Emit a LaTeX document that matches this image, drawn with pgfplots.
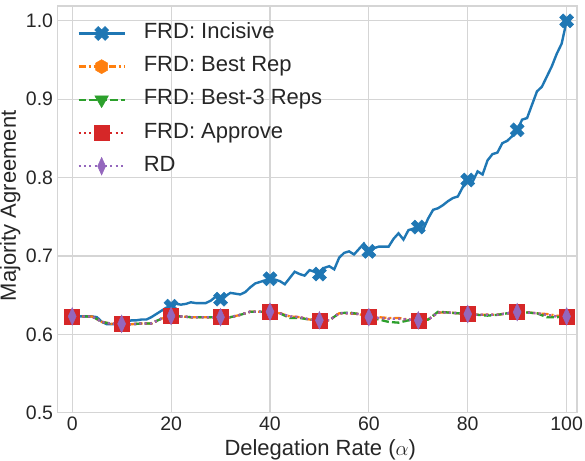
\documentclass[border=0pt]{standalone}
\usepackage{pgfplots}
\pgfplotsset{compat=1.18}
\usepackage{fontspec}
\setmainfont{Liberation Sans}

\definecolor{c0}{HTML}{1F77B4}
\definecolor{c1}{HTML}{FF7F0E}
\definecolor{c2}{HTML}{2CA02C}
\definecolor{c3}{HTML}{D62728}
\definecolor{c4}{HTML}{9467BD}
\definecolor{gridgray}{HTML}{D5D5D5}
\definecolor{txt}{HTML}{262626}

% filled X (matplotlib 'X')
\pgfdeclareplotmark{X}{%
  \pgftransformrotate{45}%
  \pgfpathmoveto{\pgfpoint{0.34\pgfplotmarksize}{0.34\pgfplotmarksize}}%
  \pgfpathlineto{\pgfpoint{0.34\pgfplotmarksize}{\pgfplotmarksize}}%
  \pgfpathlineto{\pgfpoint{-0.34\pgfplotmarksize}{\pgfplotmarksize}}%
  \pgfpathlineto{\pgfpoint{-0.34\pgfplotmarksize}{0.34\pgfplotmarksize}}%
  \pgfpathlineto{\pgfpoint{-\pgfplotmarksize}{0.34\pgfplotmarksize}}%
  \pgfpathlineto{\pgfpoint{-\pgfplotmarksize}{-0.34\pgfplotmarksize}}%
  \pgfpathlineto{\pgfpoint{-0.34\pgfplotmarksize}{-0.34\pgfplotmarksize}}%
  \pgfpathlineto{\pgfpoint{-0.34\pgfplotmarksize}{-\pgfplotmarksize}}%
  \pgfpathlineto{\pgfpoint{0.34\pgfplotmarksize}{-\pgfplotmarksize}}%
  \pgfpathlineto{\pgfpoint{0.34\pgfplotmarksize}{-0.34\pgfplotmarksize}}%
  \pgfpathlineto{\pgfpoint{\pgfplotmarksize}{-0.34\pgfplotmarksize}}%
  \pgfpathlineto{\pgfpoint{\pgfplotmarksize}{0.34\pgfplotmarksize}}%
  \pgfpathclose
  \pgfusepathqfillstroke}

% filled hexagon (matplotlib 'h')
\pgfdeclareplotmark{hexagon*}{%
  \pgfpathmoveto{\pgfpointpolar{90}{\pgfplotmarksize}}%
  \pgfpathlineto{\pgfpointpolar{150}{\pgfplotmarksize}}%
  \pgfpathlineto{\pgfpointpolar{210}{\pgfplotmarksize}}%
  \pgfpathlineto{\pgfpointpolar{270}{\pgfplotmarksize}}%
  \pgfpathlineto{\pgfpointpolar{330}{\pgfplotmarksize}}%
  \pgfpathlineto{\pgfpointpolar{30}{\pgfplotmarksize}}%
  \pgfpathclose
  \pgfusepathqfillstroke}

\begin{document}
\begin{tikzpicture}
\begin{axis}[
    scale only axis,
    width=520bp, height=407bp,
    xmin=-3.03, xmax=102.1,
    ymin=0.5, ymax=1.019,
    xtick={0,20,40,60,80,100},
    ytick={0.5,0.6,0.7,0.8,0.9,1.0},
    y tick label style={/pgf/number format/fixed,
        /pgf/number format/fixed zerofill,
        /pgf/number format/precision=1},
    /pgf/number format/assume math mode=true,
    major tick length=0pt,
    grid=major,
    grid style={gridgray, line width=1.1bp},
    axis line style={gridgray, line width=1.3bp},
    tick label style={font=\fontsize{19.5bp}{22bp}\selectfont, text=txt, inner sep=0pt},
    xticklabel style={anchor=north, yshift=-4bp},
    yticklabel style={anchor=east, xshift=-4bp},
    label style={font=\fontsize{22bp}{26bp}\selectfont, text=txt, inner sep=0pt},
    xlabel={Delegation Rate ($\alpha$)},
    ylabel={Majority Agreement},
    xlabel style={at={(axis description cs:0.506,-0.105)}, anchor=base},
    ylabel style={at={(axis description cs:-0.0904,0.509)}, anchor=center},
    legend cell align=left,
    legend style={draw=none, fill=none, at={(axis description cs:0.0385,0.96)},
        anchor=north west, inner sep=0pt, row sep=11.2bp,
        font=\fontsize{22bp}{26bp}\selectfont, text=txt,
        nodes={inner sep=0pt, text height=16bp, text depth=6bp}},
    legend image code/.code={%
        \draw[#1, mark repeat=2, mark phase=2] plot coordinates {(0bp,0bp) (23bp,0bp) (46bp,0bp)};
        \path (0bp,0bp) (64bp,0bp);},
]

% FRD: Incisive
\addplot[c0, line width=2.4bp, mark=X, mark size=7.4bp, mark repeat=10,
    mark options={solid, fill=c0, draw=c0, line width=0.5bp}] coordinates {
(0,0.623) (1,0.623) (2,0.623) (3,0.623) (4,0.623) (5,0.622) (6,0.616) (7,0.613) (8,0.613) (9,0.613)
(10,0.614) (11,0.616) (12,0.618) (13,0.618) (14,0.619) (15,0.619) (16,0.622) (17,0.626) (18,0.630) (19,0.634)
(20,0.636) (21,0.639) (22,0.638) (23,0.639) (24,0.641) (25,0.640) (26,0.640) (27,0.640) (28,0.643) (29,0.648)
(30,0.645) (31,0.649) (32,0.653) (33,0.652) (34,0.651) (35,0.654) (36,0.660) (37,0.665) (38,0.667) (39,0.669)
(40,0.671) (41,0.670) (42,0.668) (43,0.664) (44,0.672) (45,0.680) (46,0.677) (47,0.675) (48,0.682) (49,0.680)
(50,0.677) (51,0.685) (52,0.687) (53,0.683) (54,0.698) (55,0.704) (56,0.706) (57,0.702) (58,0.709) (59,0.716)
(60,0.706) (61,0.710) (62,0.712) (63,0.712) (64,0.712) (65,0.722) (66,0.729) (67,0.721) (68,0.733) (69,0.735)
(70,0.737) (71,0.734) (72,0.748) (73,0.759) (74,0.761) (75,0.765) (76,0.770) (77,0.774) (78,0.776) (79,0.788)
(80,0.797) (81,0.795) (82,0.808) (83,0.804) (84,0.822) (85,0.830) (86,0.832) (87,0.844) (88,0.847) (89,0.853)
(90,0.861) (91,0.874) (92,0.876) (93,0.893) (94,0.910) (95,0.916) (96,0.929) (97,0.942) (98,0.958) (99,0.971)
(100,1.000)};
\addlegendentry{FRD: Incisive}

% FRD: Best Rep
\addplot[c1, line width=2.3bp, dash pattern=on 7bp off 3bp on 2bp off 3bp,
    mark=hexagon*, mark size=7bp, mark repeat=5,
    mark options={solid, fill=c1, draw=c1, line width=0.5bp}] coordinates {
(0,0.623) (2,0.623) (4,0.623) (6,0.616) (8,0.6135) (10,0.6135) (12,0.613) (14,0.614) (16,0.614) (18,0.620)
(20,0.6235) (22,0.623) (24,0.622) (26,0.622) (28,0.622) (30,0.622) (32,0.622) (34,0.625) (36,0.629) (38,0.629)
(40,0.629) (42,0.627) (44,0.623) (46,0.622) (48,0.619) (50,0.618) (52,0.618) (54,0.627) (56,0.627) (58,0.626)
(60,0.622) (62,0.622) (64,0.621) (66,0.621) (68,0.619) (70,0.618) (72,0.619) (74,0.628) (76,0.628) (78,0.627)
(80,0.626) (82,0.625) (84,0.625) (86,0.625) (88,0.627) (90,0.6285) (92,0.628) (94,0.627) (96,0.626) (98,0.624)
(100,0.623)};
\addlegendentry{FRD: Best Rep}

% FRD: Best-3 Reps
\addplot[c2, line width=2.3bp, dash pattern=on 7.4bp off 3.2bp,
    mark=triangle*, mark size=7.8bp, mark repeat=5,
    mark options={solid, rotate=180, fill=c2, draw=c2, line width=0.5bp}] coordinates {
(0,0.623) (2,0.623) (4,0.623) (6,0.616) (8,0.6135) (10,0.6135) (12,0.613) (14,0.614) (16,0.614) (18,0.620)
(20,0.6235) (22,0.623) (24,0.622) (26,0.622) (28,0.622) (30,0.622) (32,0.622) (34,0.625) (36,0.629) (38,0.629)
(40,0.629) (42,0.627) (44,0.621) (46,0.621) (48,0.619) (50,0.618) (52,0.618) (54,0.627) (56,0.628) (58,0.626)
(60,0.622) (62,0.619) (64,0.616) (66,0.615) (68,0.618) (70,0.617) (72,0.619) (74,0.629) (76,0.628) (78,0.627)
(80,0.626) (82,0.625) (84,0.624) (86,0.625) (88,0.627) (90,0.6285) (92,0.628) (94,0.627) (96,0.622) (98,0.622)
(100,0.623)};
\addlegendentry{FRD: Best-3 Reps}

% FRD: Approve
\addplot[c3, line width=2.3bp, dash pattern=on 2bp off 3.3bp,
    mark=square*, mark size=7.5bp, mark repeat=5,
    mark options={solid, fill=c3, draw=c3, line width=0.5bp}] coordinates {
(0,0.623) (2,0.623) (4,0.623) (6,0.616) (8,0.6135) (10,0.6135) (12,0.613) (14,0.614) (16,0.614) (18,0.620)
(20,0.6235) (22,0.623) (24,0.622) (26,0.622) (28,0.622) (30,0.622) (32,0.622) (34,0.625) (36,0.629) (38,0.629)
(40,0.629) (42,0.627) (44,0.623) (46,0.622) (48,0.619) (50,0.618) (52,0.618) (54,0.627) (56,0.627) (58,0.626)
(60,0.622) (62,0.621) (64,0.620) (66,0.620) (68,0.619) (70,0.618) (72,0.619) (74,0.628) (76,0.628) (78,0.627)
(80,0.626) (82,0.625) (84,0.625) (86,0.625) (88,0.627) (90,0.6285) (92,0.628) (94,0.627) (96,0.625) (98,0.623)
(100,0.623)};
\addlegendentry{FRD: Approve}

% RD
\addplot[c4, line width=2.3bp, dash pattern=on 2bp off 3.3bp,
    mark=diamond*, mark size=8.8bp, mark repeat=5,
    mark options={solid, xscale=0.6, fill=c4, draw=c4, line width=0.5bp}] coordinates {
(0,0.623) (2,0.623) (4,0.623) (6,0.616) (8,0.6135) (10,0.6135) (12,0.613) (14,0.614) (16,0.614) (18,0.620)
(20,0.6235) (22,0.623) (24,0.622) (26,0.622) (28,0.622) (30,0.622) (32,0.622) (34,0.625) (36,0.629) (38,0.629)
(40,0.629) (42,0.627) (44,0.623) (46,0.622) (48,0.619) (50,0.618) (52,0.618) (54,0.627) (56,0.627) (58,0.626)
(60,0.622) (62,0.621) (64,0.620) (66,0.620) (68,0.619) (70,0.618) (72,0.619) (74,0.628) (76,0.628) (78,0.627)
(80,0.626) (82,0.625) (84,0.625) (86,0.625) (88,0.627) (90,0.6285) (92,0.628) (94,0.627) (96,0.625) (98,0.623)
(100,0.623)};
\addlegendentry{RD}

\end{axis}
\path (current axis.south west) ++(-57bp,-48bp);
\path (current axis.north east) ++(8bp,6bp);
\end{tikzpicture}
\end{document}
